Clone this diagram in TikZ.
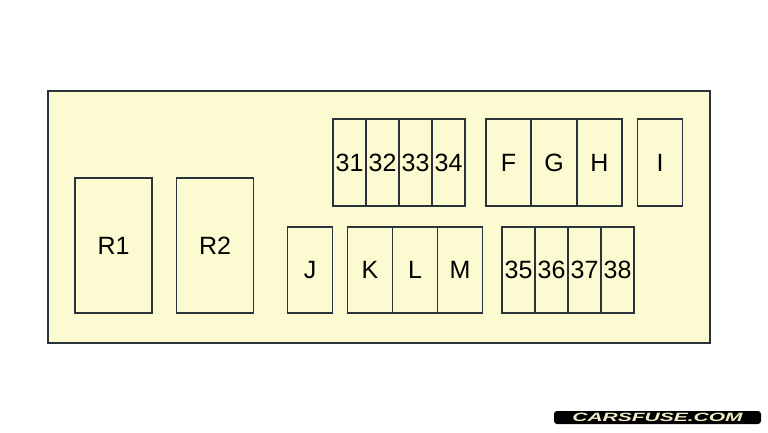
\documentclass[tikz,border=0pt]{standalone}
\usepackage{fontspec}
\setmainfont{Liberation Sans}
\definecolor{panel}{RGB}{252,250,208}
\definecolor{edge}{RGB}{42,50,62}
\definecolor{logotext}{RGB}{240,236,200}
\tikzset{
  cell/.style={draw=edge, line width=1.6pt, inner sep=0pt, minimum height=#1, font=\fontsize{25}{25}\selectfont},
  num/.style={cell=87, minimum width=33},
  letter/.style={cell=86, minimum width=45},
  relay/.style={cell=135, minimum width=77}
}
\begin{document}
\begin{tikzpicture}[x=1pt, y=-1pt]
    \useasboundingbox (0,0) rectangle (768,432);
    % Panel
    \draw[edge, line width=1.8pt, fill=panel] (48,91) rectangle (710,343);

    % Relays
    \node[relay] (R1) at (113.5,245.5) {R1};
    \node[relay] (R2) at (215,245.5) {R2};

    % Upper row
    \node[num] (f31) at (349.5,162.5) {31};
    \node[num] (f32) at (382.5,162.5) {32};
    \node[num] (f33) at (415.5,162.5) {33};
    \node[num] (f34) at (448.5,162.5) {34};
    \node[letter, cell=87] (F) at (508.5,162.5) {F};
    \node[letter, cell=87] (G) at (554,162.5) {G};
    \node[letter, cell=87] (H) at (599.5,162.5) {H};
    \node[letter, cell=87] (I) at (660,162.5) {I};

    % Lower row
    \node[letter] (J) at (310,270) {J};
    \node[letter] (K) at (370,270) {K};
    \node[letter] (L) at (415,270) {L};
    \node[letter] (M) at (460,270) {M};
    \node[num, cell=86] (f35) at (518.5,270) {35};
    \node[num, cell=86] (f36) at (551.5,270) {36};
    \node[num, cell=86] (f37) at (584.5,270) {37};
    \node[num, cell=86] (f38) at (617.5,270) {38};

    % Logo
    \node[fill=black, rounded corners=3pt, minimum width=207, minimum height=13, inner sep=0pt,
          text=logotext, font=\fontsize{12}{12}\selectfont\bfseries\itshape] (logo) at (657.5,417.5)
          {\scalebox{1.75}[1]{CARSFUSE.COM}};
\end{tikzpicture}
\end{document}
